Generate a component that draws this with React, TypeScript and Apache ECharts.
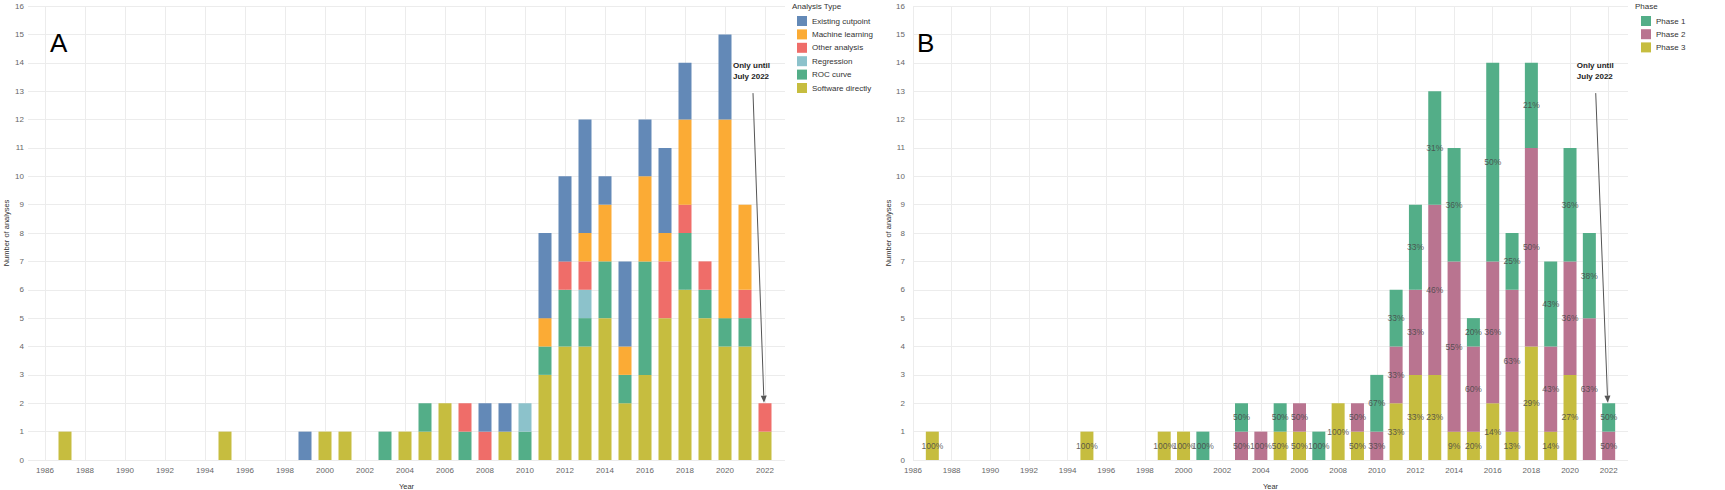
import React, { useEffect, useRef } from 'react';
import * as echarts from 'echarts';

const years = [1987, 1995, 1999, 2000, 2001, 2003, 2004, 2005, 2006, 2007, 2008, 2009, 2010, 2011, 2012, 2013, 2014, 2015, 2016, 2017, 2018, 2019, 2020, 2021, 2022];
const xTickYears = [1986, 1988, 1990, 1992, 1994, 1996, 1998, 2000, 2002, 2004, 2006, 2008, 2010, 2012, 2014, 2016, 2018, 2020, 2022];

// Panel A – analysis type
const softwareDirectly = [1, 1, 0, 1, 1, 0, 1, 1, 2, 0, 0, 1, 0, 3, 4, 4, 5, 2, 3, 5, 6, 5, 4, 4, 1];
const rocCurve = [0, 0, 0, 0, 0, 1, 0, 1, 0, 1, 0, 0, 1, 1, 2, 1, 2, 1, 4, 0, 2, 1, 1, 1, 0];
const regression = [0, 0, 0, 0, 0, 0, 0, 0, 0, 0, 0, 0, 1, 0, 0, 1, 0, 0, 0, 0, 0, 0, 0, 0, 0];
const otherAnalysis = [0, 0, 0, 0, 0, 0, 0, 0, 0, 1, 1, 0, 0, 0, 1, 1, 0, 0, 0, 2, 1, 1, 0, 1, 1];
const machineLearning = [0, 0, 0, 0, 0, 0, 0, 0, 0, 0, 0, 0, 0, 1, 0, 1, 2, 1, 3, 1, 3, 0, 7, 3, 0];
const existingCutpoint = [0, 0, 1, 0, 0, 0, 0, 0, 0, 0, 1, 1, 0, 3, 3, 4, 1, 3, 2, 3, 2, 0, 3, 0, 0];

// Panel B – phase
const phase3 = [1, 1, 1, 1, 0, 0, 0, 1, 1, 0, 2, 1, 0, 2, 3, 3, 1, 1, 2, 1, 4, 1, 3, 0, 0];
const phase2 = [0, 0, 0, 0, 0, 1, 1, 0, 1, 0, 0, 1, 1, 2, 3, 6, 6, 3, 5, 5, 7, 3, 4, 5, 1];
const phase1 = [0, 0, 0, 0, 1, 1, 0, 1, 0, 1, 0, 0, 2, 2, 3, 4, 4, 1, 7, 2, 3, 3, 4, 3, 1];

const typeNames = ['Existing cutpoint', 'Machine learning', 'Other analysis', 'Regression', 'ROC curve', 'Software directly'];
const phaseNames = ['Phase 1', 'Phase 2', 'Phase 3'];

const C = {
  blue: '#6389b7',
  orange: '#fbab35',
  red: '#ef6d69',
  teal: '#8cc2cb',
  green: '#53ae88',
  olive: '#c6bd3f',
  pink: '#b97490',
};

const FONT = 'Liberation Sans, Arial, Helvetica, sans-serif';

export default function App() {
  const ref = useRef<HTMLDivElement>(null);

  useEffect(() => {
    if (!ref.current) return;
    const chart = echarts.init(ref.current, null, { renderer: 'svg' });

    const phaseTotals = years.map((_, i) => phase1[i] + phase2[i] + phase3[i]);

    // value first so that the stacked dimension is the count, x (year) second
    const mk = (arr: number[]) => years.map((y, i) => [arr[i], y]);

    const gridLine = { show: true, lineStyle: { color: '#ececec', width: 1 } };

    const xAxisBase = (gridIndex: number, min: number) => ({
      gridIndex,
      type: 'value',
      min,
      max: 2023,
      axisLine: { show: false },
      axisTick: { show: false, customValues: xTickYears },
      axisLabel: {
        customValues: xTickYears,
        fontSize: 8,
        color: '#666',
        fontFamily: FONT,
        margin: 6,
        formatter: (v: number) => String(v),
      },
      splitLine: gridLine,
      name: 'Year',
      nameLocation: 'middle',
      nameGap: 22,
      nameTextStyle: { fontSize: 7.5, color: '#333', fontFamily: FONT },
    });

    const yAxisBase = (gridIndex: number, margin: number, nameGap: number) => ({
      gridIndex,
      type: 'value',
      min: 0,
      max: 16,
      interval: 1,
      axisLine: { show: false },
      axisTick: { show: false },
      axisLabel: { fontSize: 8, color: '#666', fontFamily: FONT, margin },
      splitLine: gridLine,
      name: 'Number of analyses',
      nameLocation: 'middle',
      nameGap,
      nameTextStyle: { fontSize: 7.5, color: '#333', fontFamily: FONT },
    });

    const barA = (name: string, arr: number[], color: string) => ({
      name,
      type: 'bar',
      xAxisIndex: 0,
      yAxisIndex: 0,
      stack: 'A',
      barWidth: 13,
      encode: { x: 1, y: 0 },
      itemStyle: { color },
      data: mk(arr),
    });

    const barB = (name: string, arr: number[], color: string) => ({
      name,
      type: 'bar',
      xAxisIndex: 1,
      yAxisIndex: 1,
      stack: 'B',
      barWidth: 13,
      encode: { x: 1, y: 0 },
      itemStyle: { color },
      label: {
        show: true,
        position: 'inside',
        fontSize: 8.5,
        color: 'rgba(70,70,70,0.85)',
        fontFamily: FONT,
        formatter: (p: any) => {
          const v = p.data[0];
          if (!v) return '';
          return Math.round((100 * v) / phaseTotals[p.dataIndex]) + '%';
        },
      },
      data: mk(arr),
    });

    const legendText = { fontSize: 8, color: '#333', fontFamily: FONT };

    chart.setOption({
      animation: false,
      backgroundColor: '#fff',
      textStyle: { fontFamily: FONT },
      grid: [
        { left: 28, top: 6, width: 757, height: 454, outerBoundsMode: 'none', containLabel: false },
        { left: 913, top: 6, width: 715, height: 454, outerBoundsMode: 'none', containLabel: false },
      ],
      xAxis: [xAxisBase(0, 1985.15), xAxisBase(1, 1986)],
      yAxis: [yAxisBase(0, 4, 18), yAxisBase(1, 8, 20)],
      legend: [
        {
          orient: 'vertical',
          left: 792,
          top: 11,
          itemWidth: 10,
          itemHeight: 10,
          itemGap: 3.4,
          icon: 'rect',
          selectedMode: false,
          textStyle: legendText,
          data: typeNames,
        },
        {
          orient: 'vertical',
          left: 1636,
          top: 11,
          itemWidth: 10,
          itemHeight: 10,
          itemGap: 3.2,
          icon: 'rect',
          selectedMode: false,
          textStyle: legendText,
          data: phaseNames,
        },
      ],
      series: [
        barA('Software directly', softwareDirectly, C.olive),
        barA('ROC curve', rocCurve, C.green),
        barA('Regression', regression, C.teal),
        barA('Other analysis', otherAnalysis, C.red),
        barA('Machine learning', machineLearning, C.orange),
        barA('Existing cutpoint', existingCutpoint, C.blue),
        barB('Phase 3', phase3, C.olive),
        barB('Phase 2', phase2, C.pink),
        barB('Phase 1', phase1, C.green),
      ],
    });

    const annot = (gridIndex: number, textAt: number[], from: number[], to: number[]) => {
      const t = chart.convertToPixel({ gridIndex } as any, textAt) as number[];
      const a = chart.convertToPixel({ gridIndex } as any, from) as number[];
      const b = chart.convertToPixel({ gridIndex } as any, to) as number[];
      const dx = b[0] - a[0];
      const dy = b[1] - a[1];
      const len = Math.sqrt(dx * dx + dy * dy);
      const ux = dx / len;
      const uy = dy / len;
      const hl = 7;
      const hw = 3;
      const base = [b[0] - ux * hl, b[1] - uy * hl];
      return [
        {
          type: 'text',
          x: t[0],
          y: t[1],
          style: {
            text: 'Only until\nJuly 2022',
            fontSize: 8,
            fontWeight: 'bold',
            fill: '#222',
            fontFamily: FONT,
            lineHeight: 11,
            align: 'left',
            verticalAlign: 'top',
          },
        },
        {
          type: 'line',
          shape: { x1: a[0], y1: a[1], x2: base[0], y2: base[1] },
          style: { stroke: '#555', lineWidth: 1 },
        },
        {
          type: 'polygon',
          shape: {
            points: [
              [b[0], b[1]],
              [base[0] - uy * hw, base[1] + ux * hw],
              [base[0] + uy * hw, base[1] - ux * hw],
            ],
          },
          style: { fill: '#555' },
        },
      ];
    };

    chart.setOption({
      graphic: [
        {
          type: 'text',
          x: 50,
          y: 43,
          style: { text: 'A', fontSize: 26, fill: '#000', fontFamily: FONT, verticalAlign: 'middle' },
        },
        {
          type: 'text',
          x: 917,
          y: 43,
          style: { text: 'B', fontSize: 26, fill: '#000', fontFamily: FONT, verticalAlign: 'middle' },
        },
        {
          type: 'text',
          x: 792,
          y: 6,
          style: { text: 'Analysis Type', fontSize: 8, fill: '#333', fontFamily: FONT, verticalAlign: 'middle' },
        },
        {
          type: 'text',
          x: 1635,
          y: 6,
          style: { text: 'Phase', fontSize: 8, fill: '#333', fontFamily: FONT, verticalAlign: 'middle' },
        },
        ...annot(0, [2020.4, 14.1], [2021.4, 12.93], [2021.95, 2.02]),
        ...annot(1, [2020.35, 14.1], [2021.33, 12.93], [2021.95, 2.02]),
      ],
    });

    return () => chart.dispose();
  }, []);

  return (
    <div
      ref={ref}
      style={{ position: 'fixed', left: 0, top: 0, width: 1725, height: 490, background: '#fff' }}
    />
  );
}
